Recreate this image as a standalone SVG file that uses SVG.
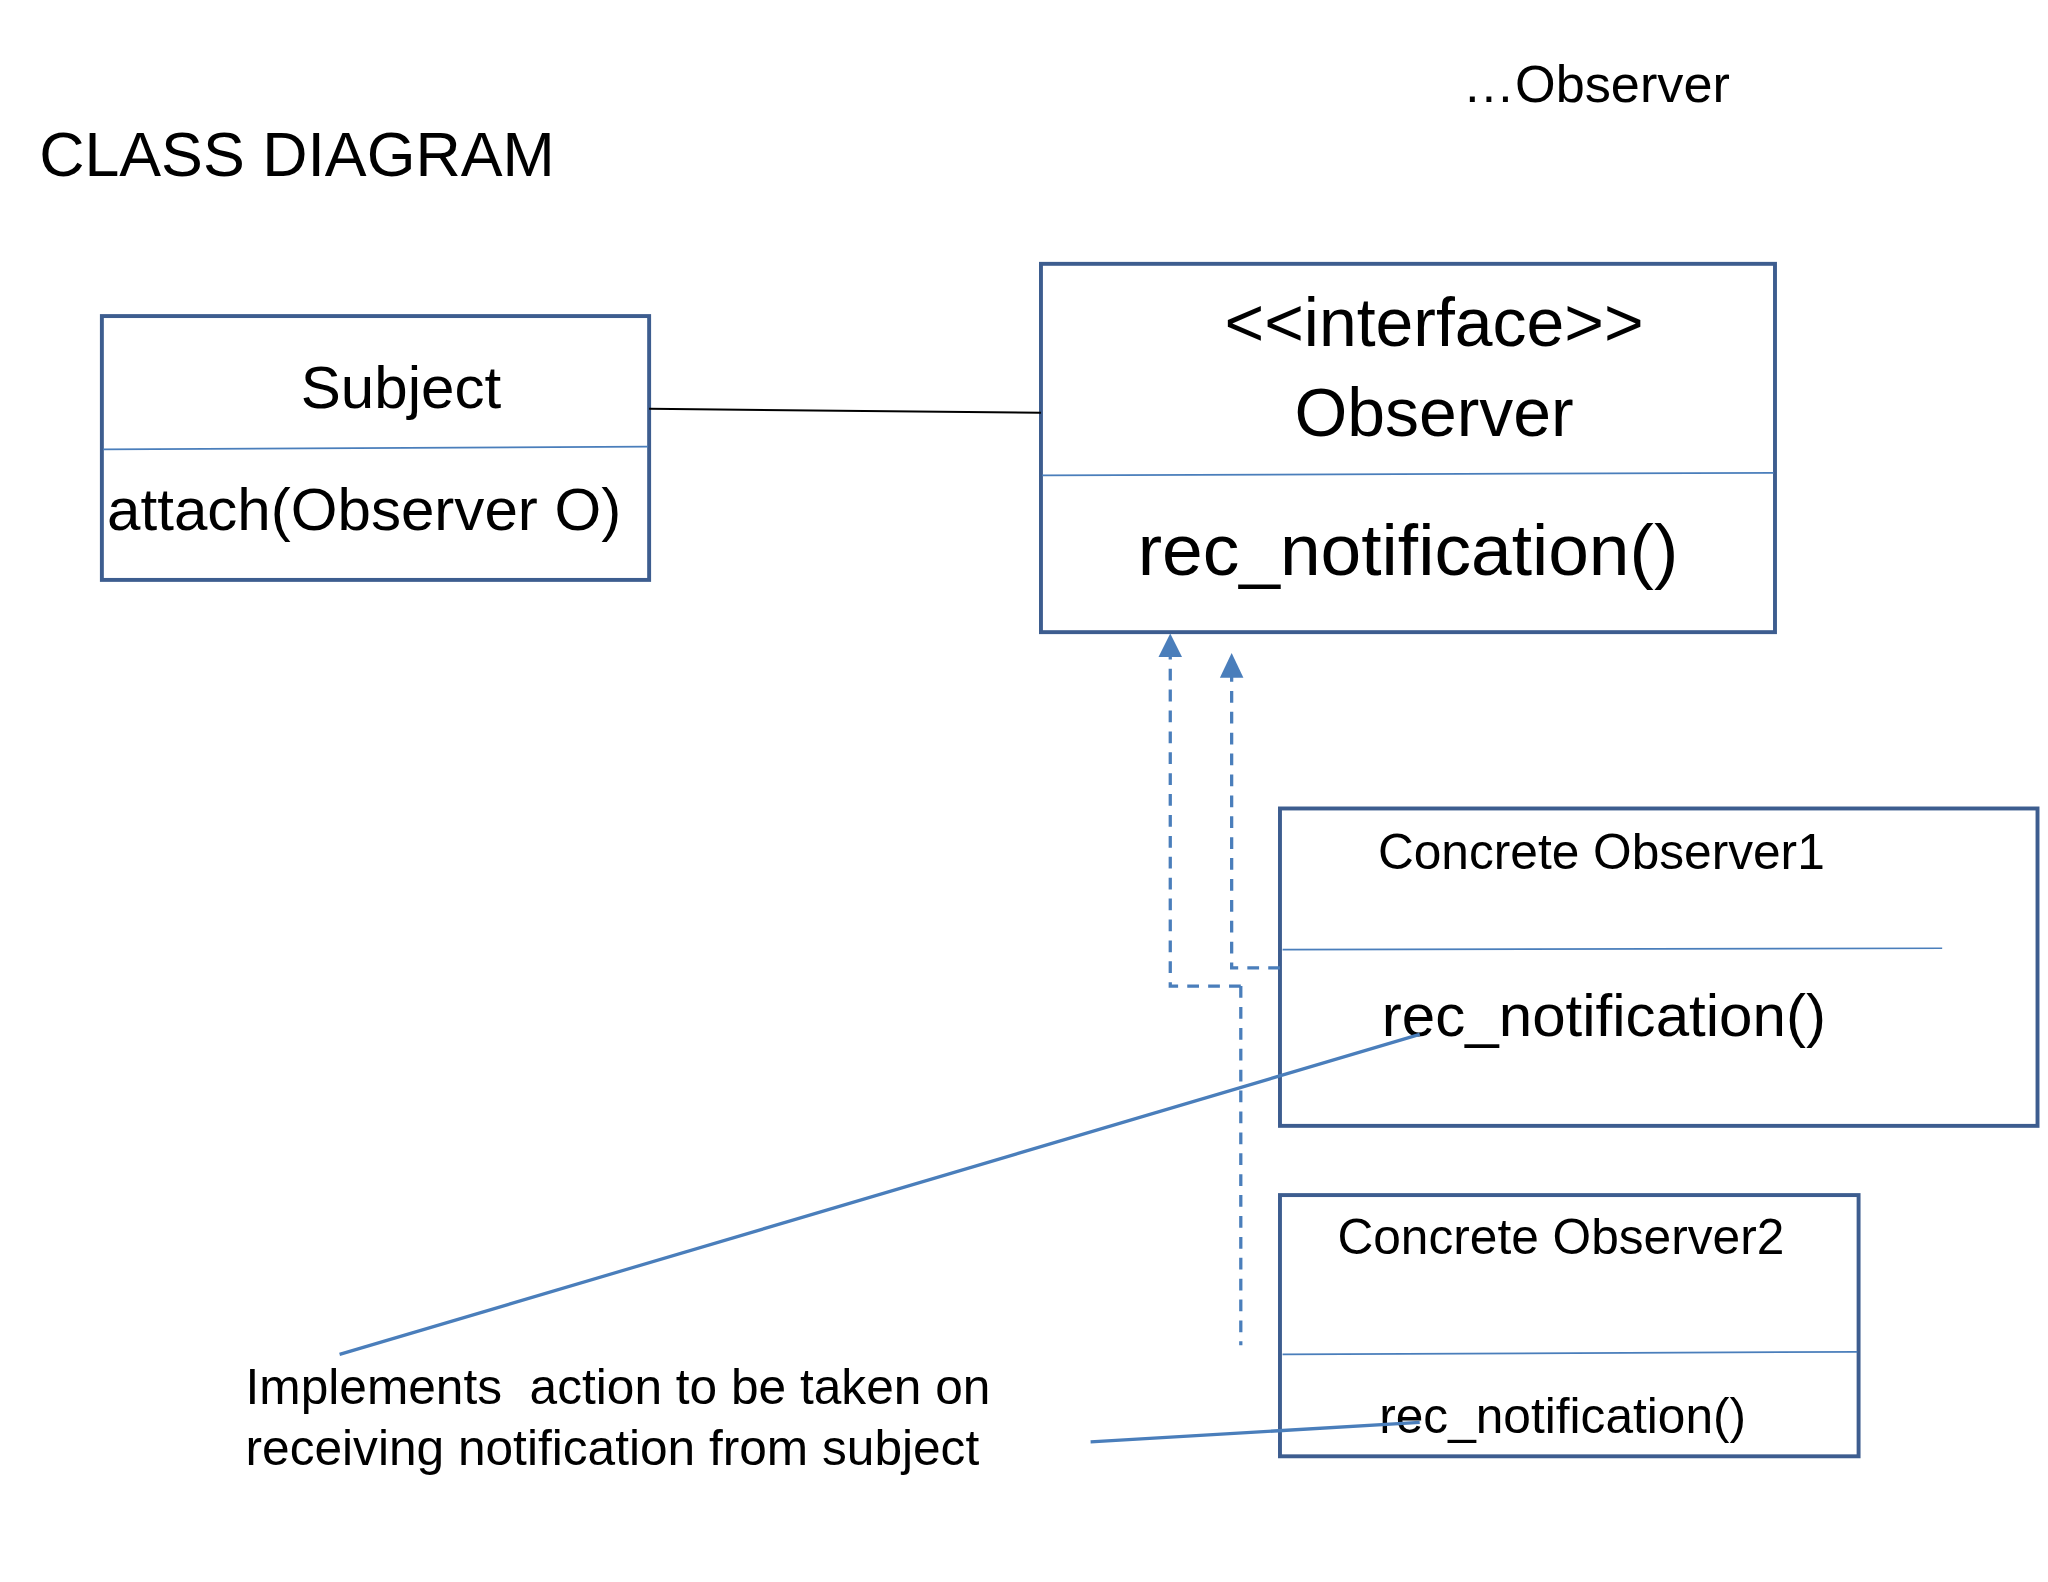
<svg xmlns="http://www.w3.org/2000/svg" width="2048" height="1582" viewBox="0 0 2048 1582">
<style>
text{font-family:"Liberation Sans",Arial,sans-serif;fill:#000}
.box{fill:#fff;stroke:#3d5d8f;stroke-width:3}
.div{stroke:#4a7ebb;stroke-width:1.3}
.dash{fill:none;stroke:#4a7ebb;stroke-width:2.5;stroke-dasharray:9,7}
.note{stroke:#4a7ebb;stroke-width:2.5}
.c{text-anchor:middle}
</style>
<rect width="2048" height="1582" fill="#fff"/>
<g transform="scale(1.3061)">
<text x="1120" y="78" font-size="40">…Observer</text>
<text x="30" y="135" font-size="48">CLASS DIAGRAM</text>
<g id="subject">
<rect class="box" x="78" y="242" width="419" height="202"/>
<line class="div" x1="79" y1="344" x2="496" y2="342"/>
<text x="307" y="312" font-size="46" class="c">Subject</text>
<text x="82" y="406" font-size="46">attach(Observer O)</text>
</g>
<g id="observer">
<rect class="box" x="797" y="202" width="562" height="282"/>
<line class="div" x1="798" y1="364" x2="1358" y2="362"/>
<text x="1098" y="265" font-size="52" class="c">&lt;&lt;interface&gt;&gt;</text>
<text x="1098" y="334" font-size="52" class="c">Observer</text>
<text x="1078" y="440" font-size="56" class="c">rec_notification()</text>
</g>
<g id="concrete1">
<rect class="box" x="980" y="619" width="580" height="243"/>
<line class="div" x1="982" y1="727" x2="1487" y2="726"/>
<text x="1055" y="665" font-size="38">Concrete Observer1</text>
<text x="1058" y="793" font-size="46">rec_notification()</text>
</g>
<g id="concrete2">
<rect class="box" x="980" y="915" width="443" height="200"/>
<line class="div" x1="982" y1="1037" x2="1422" y2="1035"/>
<text x="1024" y="960" font-size="38">Concrete Observer2</text>
<text x="1056" y="1097" font-size="38">rec_notification()</text>
</g>
<g id="note">
<text x="188" y="1075" font-size="38" xml:space="preserve">Implements  action to be taken on</text>
<text x="188" y="1122" font-size="38">receiving notification from subject</text>
</g>
<g id="connectors">
<line x1="497" y1="313" x2="797" y2="316" stroke="#000" stroke-width="1.5"/>
<polyline class="dash" points="950,755 896,755 896,502"/>
<polygon points="896,485 887,503 905,503" fill="#4a7ebb"/>
<polyline class="dash" points="980,741 943,741 943,518"/>
<polygon points="943,500 934,519 952,519" fill="#4a7ebb"/>
<line class="dash" x1="950" y1="755" x2="950" y2="1030"/>
<line class="note" x1="260" y1="1037" x2="1087" y2="792"/>
<line class="note" x1="835" y1="1104" x2="1087" y2="1089"/>
</g>
</g>
</svg>
